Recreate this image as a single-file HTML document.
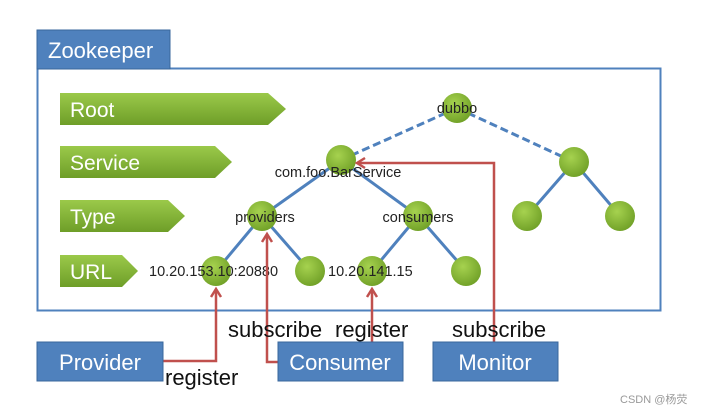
<!DOCTYPE html>
<html><head><meta charset="utf-8"><style>
body{margin:0;background:#fff;width:704px;height:414px;overflow:hidden}
</style></head><body>
<svg width="704" height="414" xmlns="http://www.w3.org/2000/svg" font-family="Liberation Sans, sans-serif">
<defs>
<linearGradient id="g" x1="0" y1="0" x2="0" y2="1"><stop offset="0" stop-color="#9bc94a"/><stop offset="1" stop-color="#6e9e28"/></linearGradient>
<radialGradient id="n" cx="0.4" cy="0.35" r="0.7"><stop offset="0" stop-color="#a6d24f"/><stop offset="1" stop-color="#6f9f26"/></radialGradient>
</defs>
<rect x="37.5" y="68.5" width="623" height="242" fill="#fff" stroke="#4f81bd" stroke-width="2"/>
<rect x="37" y="30" width="133" height="39" fill="#4f81bd" stroke="#3a679c"/>
<text x="48" y="58" font-size="22" fill="#fff">Zookeeper</text>
<g fill="url(#g)">
<polygon points="60,93 268,93 286,109 268,125 60,125"/>
<polygon points="60,146 215,146 232,162 215,178 60,178"/>
<polygon points="60,200 168,200 185,216 168,232 60,232"/>
<polygon points="60,255 122,255 138,271 122,287 60,287"/>
</g>
<g fill="#fff" font-size="21">
<text x="70" y="117">Root</text><text x="70" y="170">Service</text>
<text x="70" y="224">Type</text><text x="70" y="279">URL</text>
</g>
<g stroke="#4f81bd" stroke-width="3" fill="none">
<line x1="457" y1="108" x2="341" y2="160" stroke-dasharray="8,4"/>
<line x1="457" y1="108" x2="574" y2="162" stroke-dasharray="8,4"/>
<line x1="341" y1="160" x2="262" y2="216"/><line x1="341" y1="160" x2="418" y2="216"/>
<line x1="574" y1="162" x2="527" y2="216"/><line x1="574" y1="162" x2="620" y2="216"/>
<line x1="262" y1="216" x2="216" y2="271"/><line x1="262" y1="216" x2="310" y2="271"/>
<line x1="418" y1="216" x2="372" y2="271"/><line x1="418" y1="216" x2="466" y2="271"/>
</g>
<g fill="url(#n)">
<circle cx="457" cy="108" r="15"/><circle cx="341" cy="160" r="15"/><circle cx="574" cy="162" r="15"/>
<circle cx="527" cy="216" r="15"/><circle cx="620" cy="216" r="15"/>
<circle cx="262" cy="216" r="15"/><circle cx="418" cy="216" r="15"/>
<circle cx="216" cy="271" r="15"/><circle cx="310" cy="271" r="15"/><circle cx="372" cy="271" r="15"/><circle cx="466" cy="271" r="15"/>
</g>
<g font-size="14.5" fill="#222">
<text x="457" y="113" text-anchor="middle">dubbo</text>
<text x="338" y="177" text-anchor="middle">com.foo.BarService</text>
<text x="265" y="222" text-anchor="middle">providers</text>
<text x="418" y="222" text-anchor="middle">consumers</text>
<text x="149" y="276">10.20.153.10:20880</text>
<text x="328" y="276">10.20.141.15</text>
</g>
<g stroke="#c0504d" stroke-width="2.5" fill="none">
<polyline points="163,361 216,361 216,289"/>
<path d="M211,297 L216,289 L221,297"/>
<polyline points="279,362 267,362 267,234"/>
<path d="M262,242 L267,234 L272,242"/>
<line x1="372" y1="342" x2="372" y2="289"/>
<path d="M367,297 L372,289 L377,297"/>
<polyline points="494,342 494,163 357,163"/>
<path d="M365,158 L357,163 L365,168"/>
</g>
<g fill="#4f81bd" stroke="#3a679c">
<rect x="37" y="342" width="126" height="39"/>
<rect x="278" y="342" width="125" height="39"/>
<rect x="433" y="342" width="125" height="39"/>
</g>
<g fill="#fff" font-size="22" text-anchor="middle">
<text x="100" y="370">Provider</text><text x="340" y="370">Consumer</text><text x="495" y="370">Monitor</text>
</g>
<g font-size="22" fill="#111">
<text x="228" y="337">subscribe</text><text x="335" y="337">register</text>
<text x="452" y="337">subscribe</text><text x="165" y="385">register</text>
</g>
<text x="620" y="403" font-size="11" fill="#999">CSDN @杨荧</text>
</svg>
</body></html>
